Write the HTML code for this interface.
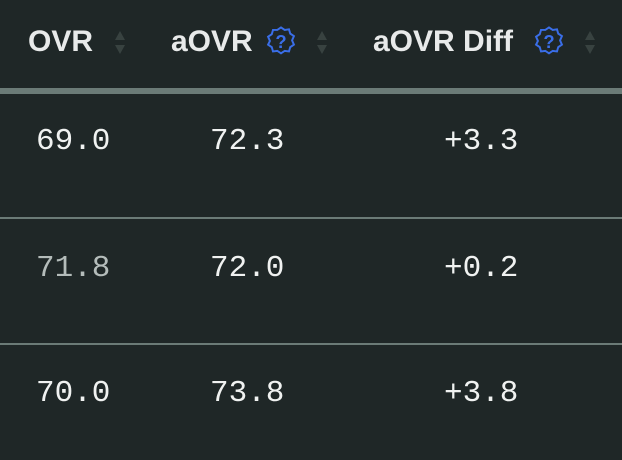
<!DOCTYPE html><html><head><style>
body{margin:0;width:622px;height:460px;background:#1f2727;overflow:hidden;position:relative;font-family:"Liberation Sans",sans-serif}
.h{position:absolute;top:22px;font-weight:bold;font-size:30px;color:#e8eaea;line-height:40px}
.s{position:absolute;width:10px;top:31px}
.s:before,.s:after{content:"";position:absolute;left:0;border-left:5px solid transparent;border-right:5px solid transparent}
.s:before{top:0;border-bottom:9px solid #384240}
.s:after{top:14px;border-top:9px solid #384240}
.q{position:absolute;top:25px;width:32px;height:32px}
.n{position:absolute;font-family:"Liberation Mono",monospace;font-size:31px;color:#f0f2f1;line-height:40px}
.d{color:#b4bcba}
.l{position:absolute;left:0;width:622px;background:#6b7b77}
</style></head><body>
<div class="h" style="left:28px">OVR</div><div class="s" style="left:115px"></div>
<div class="h" style="left:171px">aOVR</div>
<svg class="q" style="left:265px" viewBox="0 0 26 26"><path d="M13 2l3 2 3.5-.5 1 3.5 3 2-1.5 3.5 1.5 3.5-3 2-1 3.5-3.5-.5-3 2-3-2-3.5.5-1-3.5-3-2L4 13 2.5 9.5l3-2 1-3.5L10 4z" fill="none" stroke="#3a6ee8" stroke-width="1.6"/><text x="13" y="18.5" font-size="15" font-weight="bold" text-anchor="middle" fill="#3a6ee8" font-family="Liberation Sans">?</text></svg>
<div class="s" style="left:317px"></div>
<div class="h" style="left:373px">aOVR Diff</div>
<svg class="q" style="left:533px" viewBox="0 0 26 26"><path d="M13 2l3 2 3.5-.5 1 3.5 3 2-1.5 3.5 1.5 3.5-3 2-1 3.5-3.5-.5-3 2-3-2-3.5.5-1-3.5-3-2L4 13 2.5 9.5l3-2 1-3.5L10 4z" fill="none" stroke="#3a6ee8" stroke-width="1.6"/><text x="13" y="18.5" font-size="15" font-weight="bold" text-anchor="middle" fill="#3a6ee8" font-family="Liberation Sans">?</text></svg>
<div class="s" style="left:585px"></div>
<div class="l" style="top:88px;height:6px"></div>
<div class="l" style="top:217px;height:2px"></div>
<div class="l" style="top:343px;height:2px"></div>
<div class="n" style="left:36px;top:122px">69.0</div><div class="n" style="left:210px;top:122px">72.3</div><div class="n" style="left:444px;top:122px">+3.3</div>
<div class="n d" style="left:36px;top:249px">71.8</div><div class="n" style="left:210px;top:249px">72.0</div><div class="n" style="left:444px;top:249px">+0.2</div>
<div class="n" style="left:36px;top:374px">70.0</div><div class="n" style="left:210px;top:374px">73.8</div><div class="n" style="left:444px;top:374px">+3.8</div>
</body></html>
